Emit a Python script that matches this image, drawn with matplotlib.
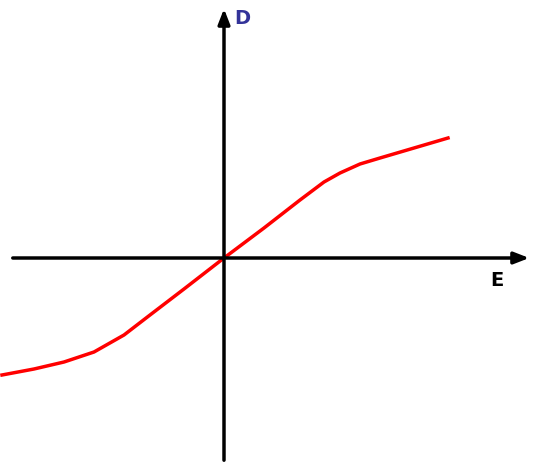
import matplotlib
matplotlib.use("Agg")
import matplotlib.pyplot as plt

# curve values (E, D) in arbitrary units
E_vals = [-222, -190, -160, -130, -100, -74, -40, 0, 40, 76, 100, 116, 136, 156, 190, 224]
D_vals = [-117, -111, -104, -94, -77, -57, -31, 0, 30, 58, 76, 85, 94, 100, 110, 120]

fig = plt.figure(figsize=(5.34, 4.69), dpi=100)
ax = fig.add_axes([0, 0, 1, 1])
ax.set_xlim(-224, 310)
ax.set_ylim(-211, 258)
ax.axis("off")

ax.annotate("", xy=(308, 0), xytext=(-214, 0),
            arrowprops=dict(arrowstyle="-|>,head_length=0.9,head_width=0.35", color="black", lw=2.5))
ax.annotate("", xy=(0, 252), xytext=(0, -205),
            arrowprops=dict(arrowstyle="-|>,head_length=0.9,head_width=0.35", color="black", lw=2.5))
ax.plot(E_vals, D_vals, color="red", lw=2.5, solid_joinstyle="round")
ax.text(10, 240, "D", color="#333399", fontsize=14, fontweight="bold", ha="left", va="center")
ax.text(273, -22, "E", color="black", fontsize=14, fontweight="bold", ha="center", va="center")

fig.savefig("out.png", dpi=100)
